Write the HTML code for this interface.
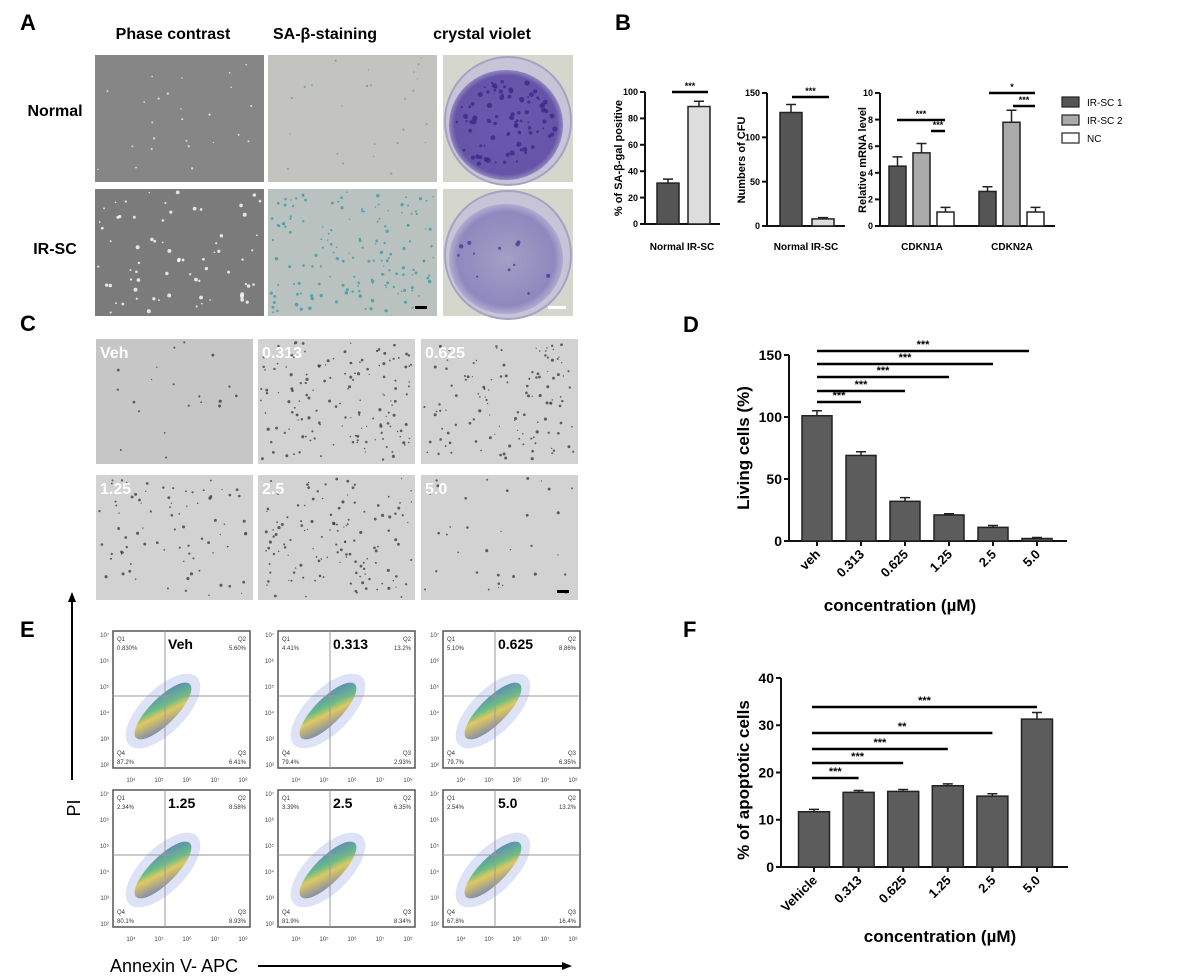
<!DOCTYPE html>
<html><head><meta charset="utf-8">
<style>
body{margin:0;background:#fff;width:1200px;height:980px;overflow:hidden;font-family:"Liberation Sans",Arial,sans-serif}
svg{display:block}
</style></head><body>
<svg id="fig" width="1200" height="980" xmlns="http://www.w3.org/2000/svg" font-family="Liberation Sans, Arial, sans-serif">
<defs>
<radialGradient id="cv" cx="50%" cy="50%" r="50%"><stop offset="0" stop-color="#6a5ab0"/><stop offset="0.9" stop-color="#6654a8"/><stop offset="1" stop-color="#9088c0"/></radialGradient>
<radialGradient id="cv2" cx="50%" cy="50%" r="50%"><stop offset="0" stop-color="#a49fc4"/><stop offset="0.85" stop-color="#8e88be"/><stop offset="1" stop-color="#b0acd0"/></radialGradient>
<linearGradient id="blob" x1="0" y1="1" x2="1" y2="0"><stop offset="0" stop-color="#2c4bb8"/><stop offset="0.45" stop-color="#e0c030"/><stop offset="0.6" stop-color="#40b060"/><stop offset="1" stop-color="#3050c0"/></linearGradient>
</defs>
<!-- Panel A -->
<text x="20" y="30" font-size="22" font-weight="bold">A</text>
<text x="173" y="39" font-size="16" font-weight="bold" text-anchor="middle">Phase contrast</text>
<text x="325" y="39" font-size="16" font-weight="bold" text-anchor="middle">SA-β-staining</text>
<text x="482" y="39" font-size="16" font-weight="bold" text-anchor="middle">crystal violet</text>
<text x="55" y="116" font-size="16" font-weight="bold" text-anchor="middle">Normal</text>
<text x="55" y="254" font-size="16" font-weight="bold" text-anchor="middle">IR-SC</text>
<g id="gA"></g>
<!-- Panel B -->
<text x="615" y="30" font-size="22" font-weight="bold">B</text>
<g id="gB"></g>
<!-- Panel C -->
<text x="20" y="331" font-size="22" font-weight="bold">C</text>
<g id="gC"></g>
<!-- Panel D -->
<text x="683" y="332" font-size="22" font-weight="bold">D</text>
<g id="gD"></g>
<!-- Panel E -->
<text x="20" y="637" font-size="22" font-weight="bold">E</text>
<g id="gE"></g>
<text x="110" y="972" font-size="18">Annexin V- APC</text>
<line x1="258" y1="966" x2="565" y2="966" stroke="#000" stroke-width="2"/>
<polygon points="572,966 562,962 562,970" fill="#000"/>
<text transform="translate(80,808) rotate(-90)" font-size="18" text-anchor="middle">PI</text>
<line x1="72" y1="780" x2="72" y2="600" stroke="#000" stroke-width="2"/>
<polygon points="72,592 68,602 76,602" fill="#000"/>
<!-- Panel F -->
<text x="683" y="637" font-size="22" font-weight="bold">F</text>
<g id="gF"></g>
</svg>
<script>
// Panel B data
const b1Cats = ["Normal","IR-SC"];
const b1Vals = [31, 89];
const b1Errs = [3, 4];
const b2Vals = [128, 8];
const b2Errs = [9, 1.5];
const b3Groups = ["CDKN1A","CDKN2A"];
const b3Series = ["IR-SC 1","IR-SC 2","NC"];
const b3Vals1 = [4.5, 2.6];
const b3Vals2 = [5.5, 7.8];
const b3Vals3 = [1.05, 1.05];
const b3Errs = [[0.7,0.35],[0.7,0.9],[0.35,0.35]];
// Panel D data
const dCats = ["veh","0.313","0.625","1.25","2.5","5.0"];
const dVals = [101, 69, 32, 21, 11, 2];
const dErrs = [4, 3, 3, 1, 1.5, 0.8];
const dTicks = [0, 50, 100, 150];
// Panel F data
const fCats = ["Vehicle","0.313","0.625","1.25","2.5","5.0"];
const fVals = [11.7, 15.8, 16.0, 17.2, 15.0, 31.3];
const fErrs = [0.5, 0.4, 0.4, 0.4, 0.5, 1.4];
const fTicks = [0, 10, 20, 30, 40];
const fSig = ["***","***","***","**","***"];
// Panel C / E labels
const cLabels = ["Veh","0.313","0.625","1.25","2.5","5.0"];
const eQ1 = ["0.830%","4.41%","5.10%","2.34%","3.39%","2.54%"];
const eQ2 = ["5.60%","13.2%","8.86%","8.58%","6.35%","13.2%"];
const eQ3 = ["6.41%","2.93%","6.35%","8.93%","8.34%","16.4%"];
const eQ4 = ["87.2%","79.4%","79.7%","80.1%","81.9%","67.8%"];

const NS="http://www.w3.org/2000/svg";
function mk(parent, tag, attrs, text){const e=document.createElementNS(NS,tag);for(const k in attrs)e.setAttribute(k,attrs[k]);if(text!==undefined)e.textContent=text;parent.appendChild(e);return e;}
let seed=7; const rnd=()=>{seed=(seed*16807)%2147483647;return seed/2147483647;};

function bar(g, x, w, y0, y1, fill, name){
  const r=mk(g,'rect',{x:x,y:Math.min(y0,y1),width:w,height:Math.abs(y0-y1),fill:fill,stroke:'#222','stroke-width':1.5});
  
  
}
function err(g, cx, yv, ye){
  const l=mk(g,'path',{d:`M${cx},${yv} V${ye} M${cx-5},${ye} H${cx+5}`,stroke:'#222','stroke-width':1.5,fill:'none'});
  
  
}
function yaxis(g, x, yA, yB, ticks, sc, fs, name){
  const a=mk(g,'line',{x1:x,y1:yA,x2:x,y2:yB,stroke:'#111','stroke-width':2});
  
  
  ticks.forEach(t=>{
    mk(g,'line',{x1:x-5,y1:sc(t),x2:x,y2:sc(t),stroke:'#111','stroke-width':2});
    const tx=mk(g,'text',{x:x-7,y:sc(t)+fs*0.35,'font-size':fs,'font-weight':'bold','text-anchor':'end'},t);
    
    
  });
}
function sig(g, x1, x2, y, label, fs){
  const l=mk(g,'line',{x1:x1,y1:y,x2:x2,y2:y,stroke:'#000','stroke-width':2.5});
  
  
  const t=mk(g,'text',{x:(x1+x2)/2,y:y-3,'font-size':fs,'font-weight':'bold','text-anchor':'middle'},label);
  
  
}
function speckle(g,x,y,w,h,n,col,rmin,rmax,op){
  for(let i=0;i<n;i++) mk(g,'circle',{cx:x+3+rnd()*(w-6),cy:y+3+rnd()*(h-6),r:rmin+rnd()*(rmax-rmin),fill:col,'fill-opacity':op});
}

// ---- Panel A ----
(function(){
  const g=document.getElementById('gA');
  const rows=[55,189], H=127;
  const imgs=[
    ['phase-normal-image',95,rows[0],169,'#868686'],['sa-normal-image',268,rows[0],169,'#c3c4bf'],
    ['phase-irsc-image',95,rows[1],169,'#7b7b7b'],['sa-irsc-image',268,rows[1],169,'#b9c2be']];
  imgs.forEach(d=>{
    const r=mk(g,'rect',{x:d[1],y:d[2],width:d[3],height:H,fill:d[4]});
    
  });
  speckle(g,95,rows[0],169,H,25,'#fff',0.6,1.2,0.7);
  speckle(g,95,rows[1],169,H,70,'#fff',0.8,2,0.8);
  speckle(g,268,rows[0],169,H,25,'#3aa0a8',0.6,1.3,0.6);
  speckle(g,268,rows[1],169,H,150,'#2f9aa8',0.7,1.8,0.75);
  rows.forEach((y,i)=>{
    const bg=mk(g,'rect',{x:443,y:y,width:130,height:H,fill:'#d5d6cc'});
    
    const rim=mk(g,'ellipse',{cx:508,cy:y+66,rx:63,ry:64,fill:'#c6c4d6',stroke:'#a6a2c4','stroke-width':2});
    
    const d=mk(g,'ellipse',{cx:506,cy:y+70,rx:57,ry:55,fill:i==0?'url(#cv)':'url(#cv2)'});
    
    if(i==0){for(let k=0;k<90;k++){const a=rnd()*6.283, rr=Math.sqrt(rnd())*50;mk(g,'circle',{cx:506+Math.cos(a)*rr,cy:y+70+Math.sin(a)*rr*0.95,r:1+rnd()*1.8,fill:'#3a2a8a','fill-opacity':0.8});}}
    else{for(let k=0;k<12;k++){const a=rnd()*6.283, rr=Math.sqrt(rnd())*48;mk(g,'circle',{cx:506+Math.cos(a)*rr,cy:y+70+Math.sin(a)*rr,r:1+rnd()*1.2,fill:'#4a3a9a','fill-opacity':0.8});}}
  });
  mk(g,'rect',{x:415,y:306,width:12,height:3,fill:'#000'});
  mk(g,'rect',{x:548,y:306,width:18,height:3,fill:'#fff'});
})();

// ---- Panel B ----
(function(){
  const g=document.getElementById('gB');
  let y0=224, yT=92; let sc=v=>y0-(v/100)*(y0-yT);
  yaxis(g,645,y0,yT,[0,20,40,60,80,100],sc,9,'b1-y-axis');
  mk(g,'line',{x1:645,y1:y0,x2:720,y2:y0,stroke:'#111','stroke-width':2});
  const xs1=[668,699], cols1=['#555','#ddd'];
  b1Vals.forEach((v,i)=>{bar(g,xs1[i]-11,22,y0,sc(v),cols1[i],'b1-bar-'+b1Cats[i].toLowerCase());err(g,xs1[i],sc(v),sc(v+b1Errs[i]));});
  sig(g,672,708,92,'***',9);
  let t=mk(g,'text',{x:682,y:250,'font-size':10,'font-weight':'bold','text-anchor':'middle'},'Normal IR-SC');
  
  t=mk(g,'text',{transform:'translate(622,158) rotate(-90)','font-size':11,'font-weight':'bold','text-anchor':'middle'},'% of SA-β-gal positive');
  
  y0=226; yT=93; sc=v=>y0-(v/150)*(y0-yT);
  yaxis(g,767,y0,yT,[0,50,100,150],sc,9,'b2-y-axis');
  mk(g,'line',{x1:767,y1:y0,x2:845,y2:y0,stroke:'#111','stroke-width':2});
  const xs2=[791,823], cols2=['#555','#ddd'];
  b2Vals.forEach((v,i)=>{bar(g,xs2[i]-11,22,y0,sc(v),cols2[i],'b2-bar-'+i);err(g,xs2[i],sc(v),sc(v+b2Errs[i]));});
  sig(g,792,829,97,'***',9);
  t=mk(g,'text',{x:806,y:250,'font-size':10,'font-weight':'bold','text-anchor':'middle'},'Normal IR-SC');
  
  t=mk(g,'text',{transform:'translate(745,160) rotate(-90)','font-size':11,'font-weight':'bold','text-anchor':'middle'},'Numbers of CFU');
  
  y0=226; yT=93; sc=v=>y0-(v/10)*(y0-yT);
  yaxis(g,880,y0,yT,[0,2,4,6,8,10],sc,9,'b3-y-axis');
  mk(g,'line',{x1:880,y1:y0,x2:1055,y2:y0,stroke:'#111','stroke-width':2});
  const cols3=['#555','#aaa','#fff'], all=[b3Vals1,b3Vals2,b3Vals3], gx=[889,979];
  b3Groups.forEach((gn,gi)=>{
    all.forEach((vals,si)=>{const x=gx[gi]+si*24;bar(g,x,17,y0,sc(vals[gi]),cols3[si],'b3-bar-'+gn.toLowerCase()+'-'+si);err(g,x+8.5,sc(vals[gi]),sc(vals[gi]+b3Errs[si][gi]));});
    const lt=mk(g,'text',{x:gx[gi]+33,y:250,'font-size':10,'font-weight':'bold','text-anchor':'middle'},gn);
    
  });
  sig(g,897,945,120,'***',9); sig(g,931,945,131,'***',9);
  sig(g,989,1035,93,'*',9); sig(g,1013,1035,106,'***',9);
  t=mk(g,'text',{transform:'translate(866,160) rotate(-90)','font-size':11,'font-weight':'bold','text-anchor':'middle'},'Relative mRNA level');
  
  b3Series.forEach((s,i)=>{
    const y=97+i*18;
    const r=mk(g,'rect',{x:1062,y:y,width:17,height:10,fill:cols3[i],stroke:'#222','stroke-width':1.2});
    
    const lt=mk(g,'text',{x:1087,y:y+9,'font-size':10},s);
    
  });
})();

// ---- Panel C ----
(function(){
  const g=document.getElementById('gC');
  const xs=[96,258,421], ys=[339,475], h=[125,125];
  let k=0;
  const dens=[20,150,120,80,130,35];
  ys.forEach((y,ri)=>xs.forEach((x,ci)=>{
    const r=mk(g,'rect',{x:x,y:y,width:157,height:h[ri],fill:k==0?'#c6c6c6':'#d2d2d2'});
    
    speckle(g,x,y,157,h[ri],dens[k],'#2a2a2a',0.6,1.6,0.7);
    const t=mk(g,'text',{x:x+4,y:y+19,'font-size':16,'font-weight':'bold',fill:'#fff'},cLabels[k]);
    
    k++;
  }));
  mk(g,'rect',{x:557,y:590,width:12,height:3,fill:'#000'});
})();

// ---- Panel E ----
(function(){
  const g=document.getElementById('gE');
  const xs=[113,278,443], ys=[631,790], w=137, h=137;
  const sup=['⁷','⁶','⁵','⁴','³','²'], supx=['⁴','⁵','⁶','⁷','⁸'];
  let k=0;
  ys.forEach(y=>xs.forEach(x=>{
    const r=mk(g,'rect',{x:x,y:y,width:w,height:h,fill:'#fff',stroke:'#555','stroke-width':1.5});
    
    const cx=x+50, cy=y+80;
    mk(g,'ellipse',{cx:cx,cy:cy,rx:48,ry:22,fill:'#4060d0','fill-opacity':0.18,transform:`rotate(-45 ${cx} ${cy})`});
    const b=mk(g,'ellipse',{cx:cx,cy:cy,rx:38,ry:13,fill:'url(#blob)','fill-opacity':0.75,transform:`rotate(-45 ${cx} ${cy})`});
    
    mk(g,'line',{x1:x+52,y1:y,x2:x+52,y2:y+h,stroke:'#999','stroke-width':1});
    mk(g,'line',{x1:x,y1:y+65,x2:x+w,y2:y+65,stroke:'#999','stroke-width':1});
    mk(g,'text',{x:x+4,y:y+10,'font-size':6,fill:'#333'},'Q1');
    mk(g,'text',{x:x+4,y:y+19,'font-size':6,fill:'#333'},eQ1[k]);
    mk(g,'text',{x:x+w-4,y:y+10,'font-size':6,fill:'#333','text-anchor':'end'},'Q2');
    mk(g,'text',{x:x+w-4,y:y+19,'font-size':6,fill:'#333','text-anchor':'end'},eQ2[k]);
    mk(g,'text',{x:x+4,y:y+h-13,'font-size':6,fill:'#333'},'Q4');
    mk(g,'text',{x:x+4,y:y+h-4,'font-size':6,fill:'#333'},eQ4[k]);
    mk(g,'text',{x:x+w-4,y:y+h-13,'font-size':6,fill:'#333','text-anchor':'end'},'Q3');
    mk(g,'text',{x:x+w-4,y:y+h-4,'font-size':6,fill:'#333','text-anchor':'end'},eQ3[k]);
    const t=mk(g,'text',{x:x+55,y:y+18,'font-size':14,'font-weight':'bold'},cLabels[k]);
    
    sup.forEach((s,i)=>mk(g,'text',{x:x-4,y:y+6+i*26,'font-size':6,fill:'#444','text-anchor':'end'},'10'+s));
    supx.forEach((s,i)=>mk(g,'text',{x:x+18+i*28,y:y+h+14,'font-size':6,fill:'#444','text-anchor':'middle'},'10'+s));
    k++;
  }));
})();

// ---- Panel D ----
(function(){
  const g=document.getElementById('gD');
  const y0=541, yT=355, x0=789, c0=817, step=44, bw=30;
  const sc=v=>y0-(v/150)*(y0-yT), xc=i=>c0+i*step;
  yaxis(g,x0,y0,yT,dTicks,sc,14,'d-y-axis');
  const xa=mk(g,'line',{x1:x0,y1:y0,x2:1067,y2:y0,stroke:'#111','stroke-width':2});
  
  dCats.forEach((c,i)=>{
    bar(g,xc(i)-bw/2,bw,y0,sc(dVals[i]),'#5c5c5c','d-bar-'+c);
    err(g,xc(i),sc(dVals[i]),sc(dVals[i]+dErrs[i]));
    mk(g,'line',{x1:xc(i),y1:y0,x2:xc(i),y2:y0+5,stroke:'#111','stroke-width':2});
    const t=mk(g,'text',{transform:`translate(${xc(i)+4},${y0+14}) rotate(-45)`,'font-size':13,'font-weight':'bold','text-anchor':'end'},c);
    
  });
  const sy=[402,391,377,364,351];
  for(let i=1;i<dCats.length;i++) sig(g,xc(0),xc(i)-(i==5?8:0),sy[i-1],'***',11);
  let t=mk(g,'text',{x:900,y:611,'font-size':17,'font-weight':'bold','text-anchor':'middle'},'concentration (µM)');
  
  t=mk(g,'text',{transform:'translate(749,448) rotate(-90)','font-size':17,'font-weight':'bold','text-anchor':'middle'},'Living cells (%)');
  
})();

// ---- Panel F ----
(function(){
  const g=document.getElementById('gF');
  const y0=867, yT=678, x0=781, c0=814, step=44.6, bw=31;
  const sc=v=>y0-(v/40)*(y0-yT), xc=i=>c0+i*step;
  yaxis(g,x0,y0,yT,fTicks,sc,14,'f-y-axis');
  const xa=mk(g,'line',{x1:x0,y1:y0,x2:1068,y2:y0,stroke:'#111','stroke-width':2});
  
  fCats.forEach((c,i)=>{
    bar(g,xc(i)-bw/2,bw,y0,sc(fVals[i]),'#5c5c5c','f-bar-'+c);
    err(g,xc(i),sc(fVals[i]),sc(fVals[i]+fErrs[i]));
    mk(g,'line',{x1:xc(i),y1:y0,x2:xc(i),y2:y0+5,stroke:'#111','stroke-width':2});
    const t=mk(g,'text',{transform:`translate(${xc(i)+4},${y0+14}) rotate(-45)`,'font-size':13,'font-weight':'bold','text-anchor':'end'},c);
    
  });
  const sy=[778,763,749,733,707];
  for(let i=1;i<fCats.length;i++) sig(g,xc(0)-2,xc(i),sy[i-1],fSig[i-1],11);
  let t=mk(g,'text',{x:940,y:942,'font-size':17,'font-weight':'bold','text-anchor':'middle'},'concentration (µM)');
  
  t=mk(g,'text',{transform:'translate(749,780) rotate(-90)','font-size':17,'font-weight':'bold','text-anchor':'middle'},'% of apoptotic cells');
  
})();
</script>
</body></html>
